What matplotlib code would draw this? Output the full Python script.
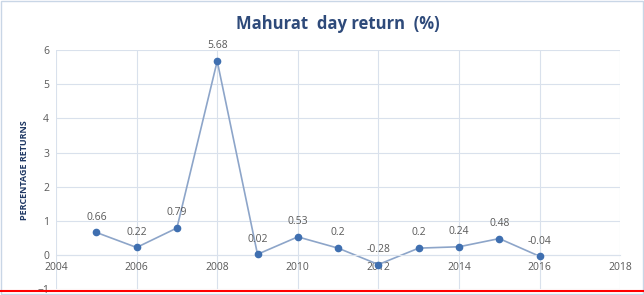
import matplotlib.pyplot as plt
from matplotlib.lines import Line2D

years = [2005, 2006, 2007, 2008, 2009, 2010, 2011, 2012, 2013, 2014, 2015, 2016]
returns = [0.66, 0.22, 0.79, 5.68, 0.02, 0.53, 0.2, -0.28, 0.2, 0.24, 0.48, -0.04]

fig = plt.figure(figsize=(6.44, 2.95), dpi=100)
ax = fig.add_axes([0.087, 0.020, 0.876, 0.810])

ax.plot(years, returns, color='#8da5c9', lw=1.2, zorder=2)
ax.plot(years, returns, 'o', color='#3f6fb0', ms=4.5, zorder=3)
for x, y in zip(years, returns):
    ax.annotate(f"{y:g}", (x, y), textcoords='offset points', xytext=(0, 7),
                ha='center', va='bottom', fontsize=7.5, color='#595959', family='Open Sans')

ax.set_xlim(2004, 2018)
ax.set_ylim(-1, 6)
ax.set_xticks(range(2004, 2019, 2))
ax.set_yticks(range(-1, 7))
ax.grid(True, color='#d9e1ec', lw=0.8)
ax.set_axisbelow(True)
for s in ['top', 'right', 'left']:
    ax.spines[s].set_visible(False)
ax.spines['bottom'].set_position(('data', 0))
ax.spines['bottom'].set_color('#d9e1ec')
ax.tick_params(length=0, labelsize=7.5, labelcolor='#595959', pad=5)
for lab in ax.get_xticklabels() + ax.get_yticklabels():
    lab.set_family('Open Sans')
ax.set_ylabel('PERCENTAGE RETURNS', fontsize=6.5, fontweight='bold', color='#1f3864',
              family='Open Sans', labelpad=6)

ax.set_title('Mahurat  day return  (%)', y=1.055, fontsize=12, fontweight='bold',
             color='#2e4a7a', family='Open Sans')

# frame and bottom red line like the source image
fig.add_artist(plt.Rectangle((0.002, 0.002), 0.996, 0.996, transform=fig.transFigure,
                             fill=False, ec='#c9d6e6', lw=1))
fig.add_artist(Line2D([0, 1], [0.012, 0.012], transform=fig.transFigure, color='red', lw=1.5))

fig.savefig('out.png', dpi=100)
